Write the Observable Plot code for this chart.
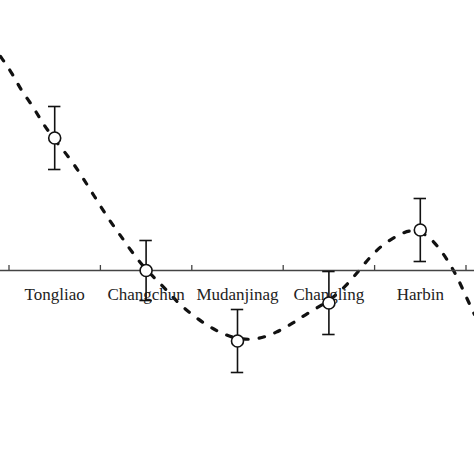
<!DOCTYPE html>
<html>
<head>
<meta charset="utf-8">
<script src="https://cdn.jsdelivr.net/npm/d3@7"></script>
<script src="https://cdn.jsdelivr.net/npm/@observablehq/plot@0.6"></script>
<style>
  html, body { margin: 0; padding: 0; background: #fff; }
  #chart svg { display: block; }
</style>
</head>
<body>
<div id="chart"></div>
<script>
// Categories (sites) and measured means with error half-widths (arbitrary units, 0 = axis)
const sites = ["Tongliao", "Changchun", "Mudanjinag", "Changling", "Harbin"];
const means = [1.325, 0.00, -0.705, -0.325, 0.405];
const errors = [0.315, 0.30, 0.315, 0.315, 0.315];

// Fitted dashed trend curve (x in site-index units)
const curveX = [-0.593, -0.462, -0.374, -0.243, -0.144, -0.013, 0.151, 0.271, 0.381, 0.490,
  0.600, 0.720, 0.840, 1.004, 1.179, 1.332, 1.486, 1.650, 1.825, 2.011, 2.230, 2.427,
  2.602, 2.777, 2.996, 3.171, 3.313, 3.444, 3.586, 3.783, 3.914, 4.057, 4.188, 4.309,
  4.407, 4.495, 4.593];
const curveY = [2.14, 1.97, 1.81, 1.65, 1.49, 1.32, 1.14, 0.98, 0.82, 0.66,
  0.50, 0.35, 0.19, 0.00, -0.15, -0.31, -0.43, -0.54, -0.63, -0.69, -0.69, -0.62,
  -0.53, -0.42, -0.31, -0.17, -0.02, 0.13, 0.26, 0.37, 0.41, 0.37, 0.25, 0.09,
  -0.07, -0.25, -0.44];

const data = sites.map((s, i) => ({site: s, i, mean: means[i], lo: means[i] - errors[i], hi: means[i] + errors[i]}));
const curve = curveX.map((x, k) => ({x, y: curveY[k]}));
const boundaries = d3.range(sites.length + 1).map(i => i - 0.5);
const capHalf = 0.068;

const chart = Plot.plot({
  width: 474,
  height: 474,
  margin: 0,
  style: {background: "#fff"},
  x: {type: "linear", domain: [-0.593, 4.593], axis: null},
  y: {domain: [-2.04, 2.70], axis: null},
  marks: [
    Plot.line(curve, {x: "x", y: "y", curve: "basis", stroke: "#111", strokeWidth: 3.2, strokeDasharray: "5.5,11"}),
    Plot.ruleY([0], {stroke: "#444", strokeWidth: 1.3}),
    Plot.ruleX(boundaries, {x: d => d, y1: 0, y2: 0.05, stroke: "#444", strokeWidth: 1.3}),
    Plot.text(data, {x: "i", y: 0, dy: 24, text: "site", fontSize: 17, fontFamily: "Liberation Serif, 'Times New Roman', serif", fill: "#222"}),
    Plot.ruleX(data, {x: "i", y1: "lo", y2: "hi", stroke: "#111", strokeWidth: 1.6}),
    Plot.ruleY(data, {y: "hi", x1: d => d.i - capHalf, x2: d => d.i + capHalf, stroke: "#111", strokeWidth: 1.6}),
    Plot.ruleY(data, {y: "lo", x1: d => d.i - capHalf, x2: d => d.i + capHalf, stroke: "#111", strokeWidth: 1.6}),
    Plot.dot(data, {x: "i", y: "mean", r: 6, fill: "#fff", stroke: "#111", strokeWidth: 1.6})
  ]
});
document.getElementById("chart").appendChild(chart);
</script>
</body>
</html>
